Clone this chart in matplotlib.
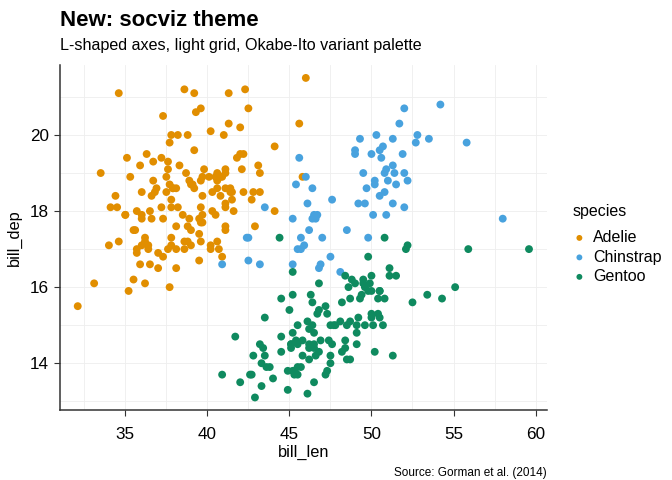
import numpy as np
import matplotlib
matplotlib.use('Agg')
import matplotlib.pyplot as plt
from matplotlib.ticker import MultipleLocator

# Palmer penguins: bill length / bill depth (mm), rows with missing values dropped
species = ['Adelie', 'Chinstrap', 'Gentoo']
colors = ['#E18E00', '#48A2DE', '#0F8A5F']

adelie_len = [39.1, 39.5, 40.3, 36.7, 39.3, 38.9, 39.2, 34.1, 42.0, 37.8, 37.8, 41.1, 38.6, 34.6, 36.6,
              38.7, 42.5, 34.4, 46.0, 37.8, 37.7, 35.9, 38.2, 38.8, 35.3, 40.6, 40.5, 37.9, 40.5, 39.5,
              37.2, 39.5, 40.9, 36.4, 39.2, 38.8, 42.2, 37.6, 39.8, 36.5, 40.8, 36.0, 44.1, 37.0, 39.6,
              41.1, 37.5, 36.0, 42.3, 39.6, 40.1, 35.0, 42.0, 34.5, 41.4, 39.0, 40.6, 36.5, 37.6, 35.7,
              41.3, 37.6, 41.1, 36.4, 41.6, 35.5, 41.1, 35.9, 41.8, 33.5, 39.7, 39.6, 45.8, 35.5, 42.8,
              40.9, 37.2, 36.2, 42.1, 34.6, 42.9, 36.7, 35.1, 37.3, 41.3, 36.3, 36.9, 38.3, 38.9, 35.7,
              41.1, 34.0, 39.6, 36.2, 40.8, 38.1, 40.3, 33.1, 43.2, 35.0, 41.0, 37.7, 37.8, 37.9, 39.7,
              38.6, 38.2, 38.1, 43.2, 38.1, 45.6, 39.7, 42.2, 39.6, 42.7, 38.6, 37.3, 35.7, 41.1, 36.2,
              37.7, 40.2, 41.4, 35.2, 40.6, 38.8, 41.5, 39.0, 44.1, 38.5, 43.1, 36.8, 37.5, 38.1, 41.1,
              35.6, 40.2, 37.0, 39.7, 40.2, 40.6, 32.1, 40.7, 37.3, 39.0, 39.2, 36.6, 36.0, 37.8, 36.0,
              41.5]
adelie_dep = [18.7, 17.4, 18.0, 19.3, 20.6, 17.8, 19.6, 18.1, 20.2, 17.1, 17.3, 17.6, 21.2, 21.1, 17.8,
              19.0, 20.7, 18.4, 21.5, 18.3, 18.7, 19.2, 18.1, 17.2, 18.9, 18.6, 17.9, 18.6, 18.9, 16.7,
              18.1, 17.8, 18.9, 17.0, 21.1, 20.0, 18.5, 19.3, 19.1, 18.0, 18.4, 18.5, 19.7, 16.9, 18.8,
              19.0, 18.9, 17.9, 21.2, 17.7, 18.9, 17.9, 19.5, 18.1, 18.6, 17.5, 18.8, 16.6, 19.1, 16.9,
              21.1, 17.0, 18.2, 17.1, 18.0, 16.2, 19.1, 16.6, 19.4, 19.0, 18.4, 17.2, 18.9, 17.5, 18.5,
              16.8, 19.4, 16.1, 19.1, 17.2, 17.6, 18.8, 19.4, 17.8, 20.3, 19.5, 18.6, 19.2, 18.8, 18.0,
              18.1, 17.1, 18.1, 17.3, 18.9, 18.6, 18.5, 16.1, 18.5, 17.9, 20.0, 16.0, 20.0, 18.6, 18.9,
              17.2, 20.0, 17.0, 19.0, 16.5, 20.3, 17.7, 19.5, 20.7, 18.3, 17.0, 20.5, 17.0, 18.6, 17.2,
              19.8, 17.0, 18.5, 15.9, 19.0, 17.6, 18.3, 17.1, 18.0, 17.9, 19.2, 18.5, 18.5, 17.6, 17.5,
              17.5, 20.1, 16.5, 17.9, 17.1, 17.2, 15.5, 17.0, 16.8, 18.7, 18.6, 18.4, 17.8, 18.1, 17.1,
              18.5]

chinstrap_len = [46.5, 50.0, 51.3, 45.4, 52.7, 45.2, 46.1, 51.3, 46.0, 51.3, 46.6, 51.7, 47.0, 52.0,
                 45.9, 50.5, 50.3, 58.0, 46.4, 49.2, 42.4, 48.5, 43.2, 50.6, 46.7, 52.0, 50.5, 49.5,
                 46.4, 52.8, 40.9, 54.2, 42.5, 51.0, 49.7, 47.5, 47.6, 52.0, 46.9, 53.5, 49.0, 46.2,
                 50.9, 45.5, 50.9, 50.8, 50.1, 49.0, 51.5, 49.8, 48.1, 51.4, 45.7, 50.7, 42.5, 52.2,
                 45.2, 49.3, 50.2, 45.6, 51.9, 46.8, 45.7, 55.8, 43.5, 49.6, 50.8, 50.2]
chinstrap_dep = [17.9, 19.5, 19.2, 18.7, 19.8, 17.8, 18.2, 18.2, 18.9, 19.9, 17.8, 20.3, 17.3, 18.1,
                 17.1, 19.6, 20.0, 17.8, 18.6, 18.2, 17.3, 17.5, 16.6, 19.4, 17.9, 19.0, 18.4, 19.0,
                 17.8, 20.0, 16.6, 20.8, 16.7, 18.8, 18.6, 16.8, 18.3, 20.7, 16.6, 19.9, 19.5, 17.5,
                 19.1, 17.0, 17.9, 18.5, 17.9, 19.6, 18.7, 17.3, 16.4, 19.0, 17.3, 19.7, 17.3, 18.8,
                 16.6, 19.9, 18.8, 19.4, 19.5, 16.5, 17.0, 19.8, 18.1, 18.2, 19.0, 18.7]

gentoo_len = [46.1, 50.0, 48.7, 50.0, 47.6, 46.5, 45.4, 46.7, 43.3, 46.8, 40.9, 49.0, 45.5, 48.4, 45.8,
              49.3, 42.0, 49.2, 46.2, 48.7, 50.2, 45.1, 46.5, 46.3, 42.9, 46.1, 44.5, 47.8, 48.2, 50.0,
              47.3, 42.8, 45.1, 59.6, 49.1, 48.4, 42.6, 44.4, 44.0, 48.7, 42.7, 49.6, 45.3, 49.6, 50.5,
              43.6, 45.5, 50.5, 44.9, 45.2, 46.6, 48.5, 45.1, 50.1, 46.5, 45.0, 43.8, 45.5, 43.2, 50.4,
              45.3, 46.2, 45.7, 54.3, 45.8, 49.8, 46.2, 49.5, 43.5, 50.7, 47.7, 46.4, 48.2, 46.5, 46.4,
              48.6, 47.5, 51.1, 45.2, 45.2, 49.1, 52.5, 47.4, 50.0, 44.9, 50.8, 43.4, 51.3, 47.5, 52.1,
              47.5, 52.2, 45.5, 49.5, 44.5, 50.8, 49.4, 46.9, 48.4, 51.1, 48.5, 55.9, 47.2, 49.1, 47.3,
              46.8, 41.7, 53.4, 43.3, 48.1, 50.5, 49.8, 43.5, 51.5, 46.2, 55.1, 44.5, 48.8, 47.2, 46.8,
              50.4, 45.2, 49.9]
gentoo_dep = [13.2, 16.3, 14.1, 15.2, 14.5, 13.5, 14.6, 15.3, 13.4, 15.4, 13.7, 16.1, 13.7, 14.6, 14.6,
              15.7, 13.5, 15.2, 14.5, 15.1, 14.3, 14.5, 14.5, 15.8, 13.1, 15.1, 14.3, 15.0, 14.3, 15.3,
              15.3, 14.2, 14.5, 17.0, 14.8, 16.3, 13.7, 17.3, 13.6, 15.7, 13.7, 16.0, 13.7, 15.0, 15.9,
              13.9, 13.9, 15.9, 13.3, 15.8, 14.2, 14.1, 14.4, 15.0, 14.4, 15.4, 13.9, 15.0, 14.5, 15.3,
              13.8, 14.9, 13.9, 15.7, 14.2, 16.8, 14.4, 16.2, 14.2, 15.0, 15.0, 15.6, 15.6, 14.8, 15.0,
              16.0, 14.2, 16.3, 13.8, 16.4, 14.5, 15.6, 14.6, 15.9, 13.8, 17.3, 14.4, 14.2, 14.0, 17.0,
              15.0, 17.1, 14.5, 16.1, 14.7, 15.7, 15.8, 14.6, 14.4, 16.5, 15.0, 17.0, 15.5, 15.0, 13.8,
              16.1, 14.7, 15.8, 14.0, 15.1, 15.2, 15.9, 15.2, 16.3, 14.1, 16.0, 15.7, 16.2, 13.7, 14.3,
              15.7, 14.8, 16.1]

x_ticks = [35, 40, 45, 50, 55, 60]
y_ticks = [14, 16, 18, 20]

plt.rcParams['font.family'] = ['Liberation Sans', 'DejaVu Sans']

fig = plt.figure(figsize=(6.72, 4.8), dpi=100)
ax = fig.add_axes([0.0893, 0.1458, 0.725, 0.7188])

grid_col = '#EEEEEE'
ax.xaxis.set_minor_locator(MultipleLocator(2.5))
ax.yaxis.set_minor_locator(MultipleLocator(1))
ax.grid(True, which='both', color=grid_col, linewidth=0.6)
ax.set_axisbelow(True)

data = [(adelie_len, adelie_dep), (chinstrap_len, chinstrap_dep), (gentoo_len, gentoo_dep)]
for name, col, (xs, ys) in zip(species, colors, data):
    ax.scatter(xs, ys, s=32, color=col, edgecolors='none', label=name, zorder=3)

ax.set_xlim(31.02, 60.71)
ax.set_ylim(12.77, 21.84)
ax.set_xticks(x_ticks)
ax.set_yticks(y_ticks)

for side in ['top', 'right']:
    ax.spines[side].set_visible(False)
for side in ['left', 'bottom']:
    ax.spines[side].set_color('#333333')
    ax.spines[side].set_linewidth(1.1)

ax.tick_params(which='major', length=4, width=0.8, color='#333333',
               labelsize=12.3, labelcolor='black')
ax.tick_params(axis='x', pad=8.5)
ax.tick_params(axis='y', pad=4)
ax.tick_params(which='minor', length=0)

ax.set_xlabel('bill_len', fontsize=11.8, labelpad=1.5)
ax.set_ylabel('bill_dep', fontsize=11.8, labelpad=6)

fig.text(0.0893, 0.935, 'New: socviz theme', fontsize=16, fontweight='bold', va='bottom')
fig.text(0.0893, 0.89, 'L-shaped axes, light grid, Okabe-Ito variant palette', fontsize=11.6, va='bottom')
fig.text(0.814, 0.003, 'Source: Gorman et al. (2014)', fontsize=8.5, ha='right', va='bottom')

leg = fig.legend(*ax.get_legend_handles_labels(), title='species',
                 loc='upper left', bbox_to_anchor=(573 / 672, 1 - 204 / 480),
                 frameon=False, fontsize=11.5, title_fontsize=11.5,
                 handlelength=0.8, handletextpad=0.45, labelspacing=0.28,
                 markerscale=0.75, borderpad=0, borderaxespad=0)
leg._legend_box.align = 'left'
leg._legend_box.sep = 8

fig.savefig('out.png', dpi=100)
